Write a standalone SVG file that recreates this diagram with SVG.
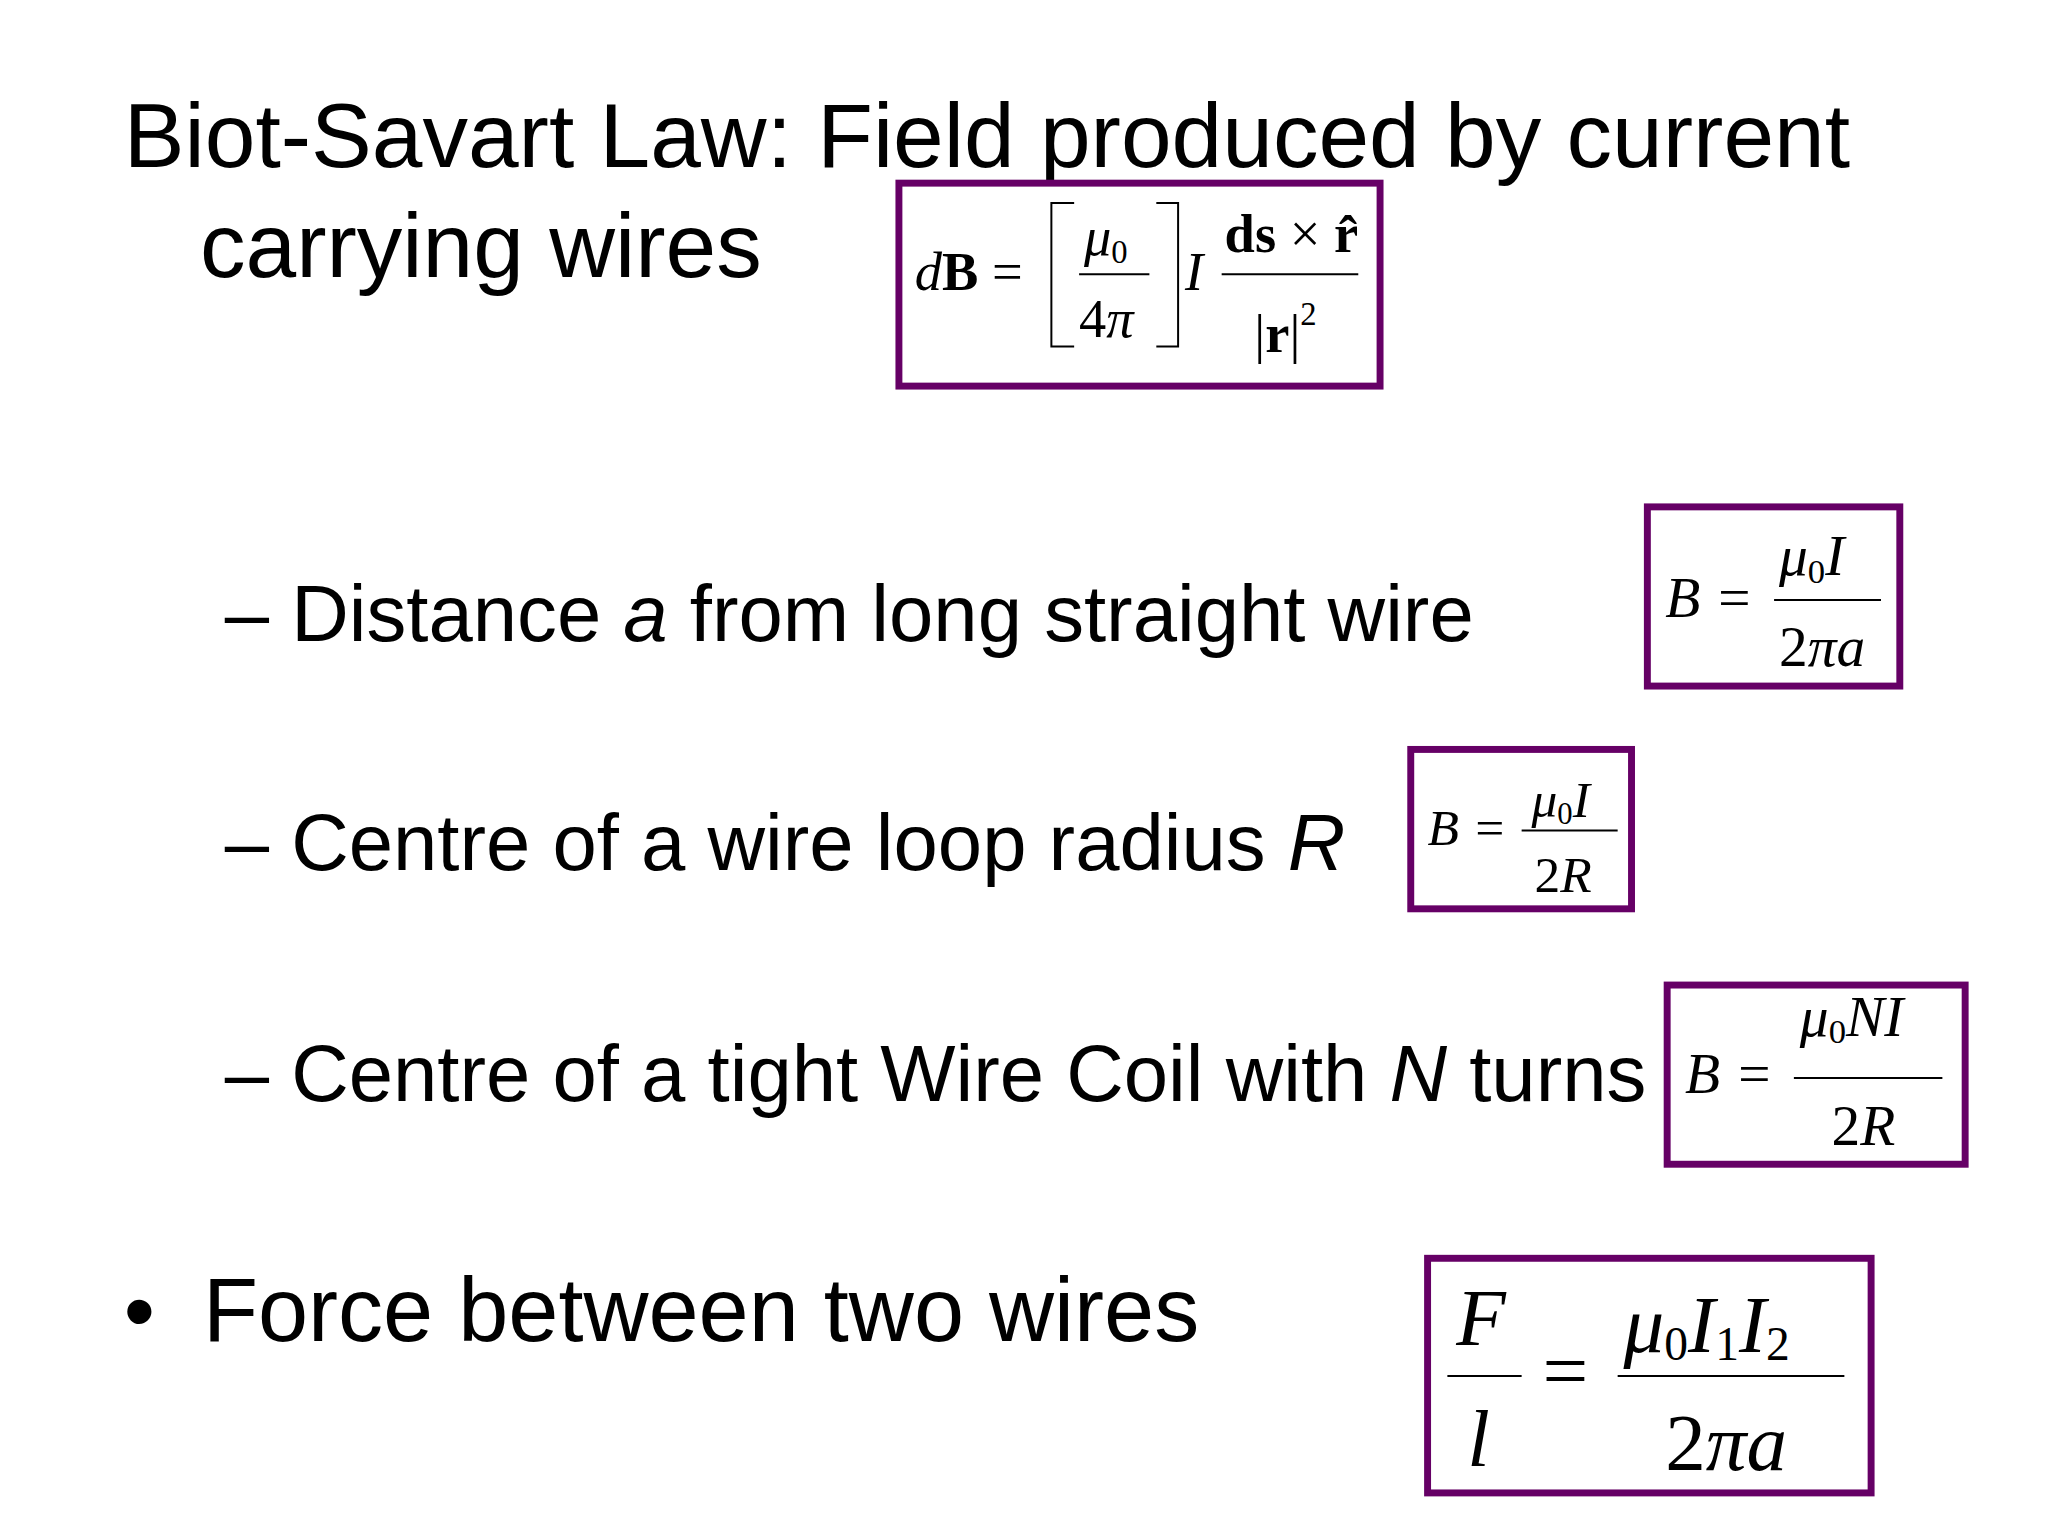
<svg xmlns="http://www.w3.org/2000/svg" width="2048" height="1536" viewBox="0 0 2048 1536">
<style>
.t{font-family:"Liberation Sans",Arial,sans-serif;fill:#000}
.m{font-family:"Liberation Serif","Times New Roman",serif;fill:#000}
.i{font-style:italic}
.b{font-weight:bold}
.box{fill:#fff;stroke:#660066;stroke-width:7}
.ln{stroke:#000;stroke-width:2;fill:none}
</style>
<rect width="2048" height="1536" fill="#fff"/>
<g transform="scale(0.99)">
<g id="title">
<text class="t" x="125" y="169" font-size="92">Biot-Savart Law: Field produced by current</text>
<text class="t" x="202" y="280" font-size="92">carrying wires</text>
</g>
<g id="f1">
<rect class="box" x="908" y="185" width="486" height="205"/>
<text class="m" x="924" y="293" font-size="55"><tspan class="i">d</tspan><tspan class="b">B</tspan> =</text>
<path class="ln" d="M1085,205 H1062 V350 H1085 M1168,205 H1190 V350 H1168"/>
<text class="m i" x="1095" y="258" font-size="55">μ<tspan font-size="33" font-style="normal" dy="8">0</tspan></text>
<line class="ln" x1="1090" y1="277" x2="1161" y2="277"/>
<text class="m" x="1090" y="340" font-size="55">4<tspan class="i">π</tspan></text>
<text class="m i" x="1197" y="293" font-size="55">I</text>
<text class="m" x="1237" y="255" font-size="55"><tspan class="b">ds</tspan> × <tspan class="b">r̂</tspan></text>
<line class="ln" x1="1234" y1="277" x2="1372" y2="277"/>
<text class="m" x="1267" y="356" font-size="55">|<tspan class="b">r</tspan>|<tspan font-size="33" dy="-28">2</tspan></text>
</g>
<g id="b1">
<text class="t" x="227" y="647" font-size="80.5">– Distance <tspan font-style="italic">a</tspan> from long straight wire</text>
<rect class="box" x="1664" y="512" width="255" height="181"/>
<text class="m i" x="1682" y="623" font-size="58">B =</text>
<text class="m i" x="1797" y="581" font-size="58">μ<tspan font-size="35" font-style="normal" dy="8">0</tspan><tspan dy="-8">I</tspan></text>
<line class="ln" x1="1792" y1="606" x2="1900" y2="606"/>
<text class="m" x="1797" y="673" font-size="58">2<tspan class="i">πa</tspan></text>
</g>
<g id="b2">
<text class="t" x="227" y="879" font-size="80.5">– Centre of a wire loop radius <tspan font-style="italic">R</tspan></text>
<rect class="box" x="1425" y="757" width="223" height="161"/>
<text class="m i" x="1442" y="854" font-size="52">B =</text>
<text class="m i" x="1547" y="825" font-size="52">μ<tspan font-size="31" font-style="normal" dy="7">0</tspan><tspan dy="-7">I</tspan></text>
<line class="ln" x1="1537" y1="839" x2="1634" y2="839"/>
<text class="m" x="1550" y="901" font-size="52">2<tspan class="i">R</tspan></text>
</g>
<g id="b3">
<text class="t" x="227" y="1112" font-size="80.5">– Centre of a tight Wire Coil with <tspan font-style="italic">N</tspan> turns</text>
<rect class="box" x="1684" y="995" width="301" height="181"/>
<text class="m i" x="1702" y="1104" font-size="58">B =</text>
<text class="m i" x="1818" y="1046" font-size="58">μ<tspan font-size="35" font-style="normal" dy="8">0</tspan><tspan dy="-8">NI</tspan></text>
<line class="ln" x1="1812" y1="1089" x2="1962" y2="1089"/>
<text class="m" x="1850" y="1157" font-size="58">2<tspan class="i">R</tspan></text>
</g>
<g id="b4">
<text class="t" x="125" y="1355" font-size="90">•</text>
<text class="t" x="205" y="1355" font-size="91">Force between two wires</text>
<rect class="box" x="1442" y="1271" width="448" height="237"/>
<text class="m i" x="1471" y="1359" font-size="82">F</text>
<line class="ln" x1="1462" y1="1390" x2="1537" y2="1390" stroke-width="3"/>
<text class="m i" x="1482" y="1481" font-size="82">l</text>
<text class="m" x="1558" y="1412" font-size="82">=</text>
<text class="m i" x="1640" y="1366" font-size="82">μ<tspan font-size="48" font-style="normal" dy="8">0</tspan><tspan dy="-8">I</tspan><tspan font-size="48" font-style="normal" dy="8">1</tspan><tspan dy="-8">I</tspan><tspan font-size="48" font-style="normal" dy="8">2</tspan></text>
<line class="ln" x1="1634" y1="1390" x2="1863" y2="1390" stroke-width="3"/>
<text class="m" x="1682" y="1485" font-size="82">2<tspan class="i">πa</tspan></text>
</g>
</g>
</svg>
